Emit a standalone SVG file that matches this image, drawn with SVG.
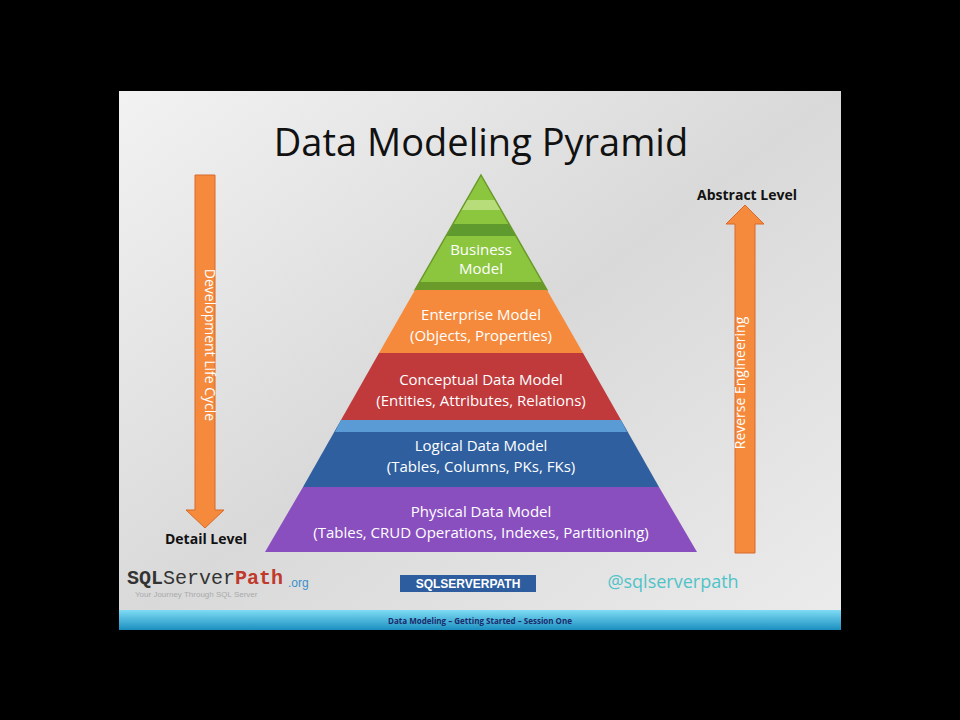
<svg xmlns="http://www.w3.org/2000/svg" width="960" height="720" viewBox="0 0 960 720">
<defs>
<linearGradient id="bg" x1="0" y1="0" x2="1" y2="1"><stop offset="0" stop-color="#f2f2f2"/><stop offset="0.5" stop-color="#d9d9d9"/><stop offset="1" stop-color="#ececec"/></linearGradient>
<linearGradient id="foot" x1="0" y1="0" x2="0" y2="1"><stop offset="0" stop-color="#7fdcf5"/><stop offset="1" stop-color="#1b8fc0"/></linearGradient>
<clipPath id="tri"><polygon points="481,175 547,290 415,290"/></clipPath>
<style>
.t{font-family:"Open Sans","Liberation Sans",sans-serif;fill:#fff;font-size:15px;text-anchor:middle}
.b{font-family:"Open Sans","Liberation Sans",sans-serif;font-weight:bold;font-size:14px;fill:#111}
.arr{fill:#f58a3c;stroke:#d8692a;stroke-width:1}
.at{font-family:"Open Sans","Liberation Sans",sans-serif;fill:#fff;font-size:14px;text-anchor:middle}
</style>
</defs>
<rect width="960" height="720" fill="#000"/>
<rect x="119" y="91" width="722" height="539" fill="url(#bg)"/>
<text x="481" y="156" font-family="'Open Sans','Liberation Sans',sans-serif" font-size="38" text-anchor="middle" fill="#111">Data Modeling Pyramid</text>
<g id="pyramid">
<g id="business"><polygon points="481,175 547,290 415,290" fill="#8cc63f"/>
<g clip-path="url(#tri)"><rect x="400" y="200" width="160" height="10" fill="#b6dd7a"/><rect x="400" y="224" width="160" height="12" fill="#5f9a2e"/><rect x="400" y="282" width="160" height="8" fill="#6a9a2a"/></g>
<polygon points="481,175 547,290 415,290" fill="none" stroke="#6a9a2a" stroke-width="1.5"/>
<text class="t" x="481" y="255">Business</text><text class="t" x="481" y="274">Model</text></g>
<g id="enterprise"><polygon points="415,290 547,290 583,353 379,353" fill="#f58a3c"/><text class="t" x="481" y="320">Enterprise Model</text><text class="t" x="481" y="341">(Objects, Properties)</text></g>
<g id="conceptual"><polygon points="379,353 583,353 621,420 341,420" fill="#c0393b"/><text class="t" x="481" y="385">Conceptual Data Model</text><text class="t" x="481" y="406">(Entities, Attributes, Relations)</text></g>
<g id="logical"><polygon points="341,420 621,420 659,487 303,487" fill="#2f5f9e"/><polygon points="341,420 621,420 627,432 335,432" fill="#5b9bd5"/><text class="t" x="481" y="451">Logical Data Model</text><text class="t" x="481" y="472">(Tables, Columns, PKs, FKs)</text></g>
<g id="physical"><polygon points="303,487 659,487 697,552 265,552" fill="#8a4fbf"/><text class="t" x="481" y="517">Physical Data Model</text><text class="t" x="481" y="538">(Tables, CRUD Operations, Indexes, Partitioning)</text></g>
</g>
<g id="connectors">
<g id="devlife"><polygon class="arr" points="195,175 215,175 215,510 224,510 205,528 186,510 195,510"/>
<text class="at" transform="translate(205,345) rotate(90)">Development Life Cycle</text></g>
<g id="reverse"><polygon class="arr" points="735,553 755,553 755,224 764,224 745,205 726,224 735,224"/>
<text class="at" transform="translate(745,383) rotate(-90)">Reverse Engineering</text></g>
</g>
<text class="b" x="747" y="200" text-anchor="middle">Abstract Level</text>
<text class="b" x="206" y="544" text-anchor="middle">Detail Level</text>
<g id="footer">
<text x="127" y="584" font-family="'Liberation Mono',monospace" font-size="20" font-weight="bold" fill="#333">SQL<tspan font-weight="normal">Server</tspan><tspan fill="#c0392b">Path</tspan></text>
<text x="288" y="587" font-family="'Liberation Sans',sans-serif" font-size="12" fill="#3a8fc8">.org</text>
<text x="135" y="597" font-family="'Liberation Sans',sans-serif" font-size="8" fill="#aaa">Your Journey Through SQL Server</text>
<rect x="400" y="575" width="136" height="17" fill="#2d5d9f"/>
<text x="468" y="588" font-family="'Liberation Sans',sans-serif" font-size="12" font-weight="bold" fill="#fff" text-anchor="middle">SQLSERVERPATH</text>
<text x="673" y="588" font-family="'Open Sans','Liberation Sans',sans-serif" font-size="18" fill="#4fc3c8" text-anchor="middle">@sqlserverpath</text>
<rect x="119" y="610" width="722" height="20" fill="url(#foot)"/>
<text x="480" y="624" font-family="'Open Sans','Liberation Sans',sans-serif" font-size="8" fill="#1a2a6c" text-anchor="middle" font-weight="bold">Data Modeling – Getting Started – Session One</text>
</g>
</svg>
